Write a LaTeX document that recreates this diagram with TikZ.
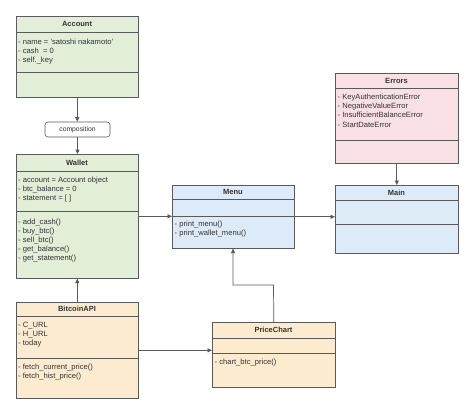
\documentclass[tikz,border=0pt]{standalone}
\usepackage{fontspec}
\setmainfont{Liberation Sans}
\usetikzlibrary{arrows.meta,calc}
\definecolor{cgreen}{HTML}{E3EED9}
\definecolor{corange}{HTML}{FDEBD0}
\definecolor{cpink}{HTML}{F9E0E5}
\definecolor{cblue}{HTML}{DDEAF7}
\definecolor{cline}{HTML}{5A5A5A}
\definecolor{ctext}{HTML}{333333}
\begin{document}
\begin{tikzpicture}[x=1pt,y=-1pt,
  umlbox/.style={draw=cline, line width=0.6pt, rectangle, anchor=north west, inner sep=0pt},
  div/.style={draw=cline, line width=0.6pt},
  hdr/.style={font=\fontsize{7.5}{8}\selectfont\bfseries, text=ctext, inner sep=0pt},
  txt/.style={font=\fontsize{7.6}{9.1}\selectfont, text=ctext, align=left, anchor=north west, inner sep=0pt},
  arr/.style={draw=cline, line width=0.7pt, -{Triangle[length=4.5pt,width=4pt]}},
]
\useasboundingbox (0,0) rectangle (474,415);
\fill[white] (0,0) rectangle (474,415);

% Account
\node[umlbox, fill=cgreen, minimum width=122pt, minimum height=81pt] (account) at (16,16) {};
\draw[div] (16,32) -- (138,32);
\draw[div] (16,72) -- (138,72);
\node[hdr] (accounth) at (77,24) {Account};
\node[txt] (accounta) at (18,38.5) {- name = 'satoshi nakamoto'\\- cash\ \ = 0\\- self.\_key};

% composition
\node[draw=cline, line width=0.6pt, rounded corners=3pt, fill=white, minimum width=65pt, minimum height=15pt, inner sep=0pt, font=\fontsize{6.8}{8}\selectfont, text=ctext] (comp) at (77.5,129.5) {composition};

% Wallet
\node[umlbox, fill=cgreen, minimum width=122pt, minimum height=124pt] (wallet) at (16,154) {};
\draw[div] (16,171) -- (138,171);
\draw[div] (16,211) -- (138,211);
\node[hdr] (walleth) at (77,162.5) {Wallet};
\node[txt] (walleta) at (18,176.5) {- account = Account object\\- btc\_balance = 0\\- statement = [ ]};
\node[txt] (walletm) at (18,218.5) {- add\_cash()\\- buy\_btc()\\- sell\_btc()\\- get\_balance()\\- get\_statement()};

% BitcoinAPI
\node[umlbox, fill=corange, minimum width=122pt, minimum height=96pt] (btc) at (16,302) {};
\draw[div] (16,316) -- (138,316);
\draw[div] (16,358) -- (138,358);
\node[hdr] (btch) at (77,309) {BitcoinAPI};
\node[txt] (btca) at (18,321.5) {- C\_URL\\- H\_URL\\- today};
\node[txt] (btcm) at (18,364) {- fetch\_current\_price()\\- fetch\_hist\_price()};

% Menu
\node[umlbox, fill=cblue, minimum width=122pt, minimum height=63pt] (menu) at (172,185) {};
\draw[div] (172,199) -- (294,199);
\draw[div] (172,216) -- (294,216);
\node[hdr] (menuh) at (233,192) {Menu};
\node[txt] (menum) at (174.5,221) {- print\_menu()\\- print\_wallet\_menu()};

% PriceChart
\node[umlbox, fill=corange, minimum width=123pt, minimum height=65pt] (pc) at (212,322) {};
\draw[div] (212,338) -- (335,338);
\draw[div] (212,353) -- (335,353);
\node[hdr] (pch) at (273.5,330) {PriceChart};
\node[txt] (pcm) at (214.5,358.5) {- chart\_btc\_price()};

% Errors
\node[umlbox, fill=cpink, minimum width=123pt, minimum height=90pt] (errors) at (335,73) {};
\draw[div] (335,88) -- (458,88);
\draw[div] (335,140) -- (458,140);
\node[hdr] (errorsh) at (396.5,80.5) {Errors};
\node[txt] (errorsa) at (337.5,94) {- KeyAuthenticationError\\- NegativeValueError\\- InsufficientBalanceError\\- StartDateError};

% Main
\node[umlbox, fill=cblue, minimum width=123pt, minimum height=68pt] (main) at (335,185) {};
\draw[div] (335,200) -- (458,200);
\draw[div] (335,224) -- (458,224);
\node[hdr] (mainh) at (396.5,192.5) {Main};

% connectors
\draw[arr] (account.south) -- (account.south |- comp.north);
\draw[arr] (comp.south) -- (comp.south |- wallet.north);
\draw[arr] (btc.north) -- (wallet.south);
\draw[arr] (wallet.east) -- (wallet.east -| menu.west);
\draw[arr] (menu.east) -- (menu.east -| main.west);
\draw[arr] (errors.south) -- (main.north);
\draw[arr] (btc.east) -- (btc.east -| pc.west);
\coordinate (e1) at (273.5,285);
\coordinate (e2) at (233,285);
\draw[arr] (pc.north) -- (e1) -- (e2) -- (e2 |- menu.south);
\end{tikzpicture}
\end{document}
